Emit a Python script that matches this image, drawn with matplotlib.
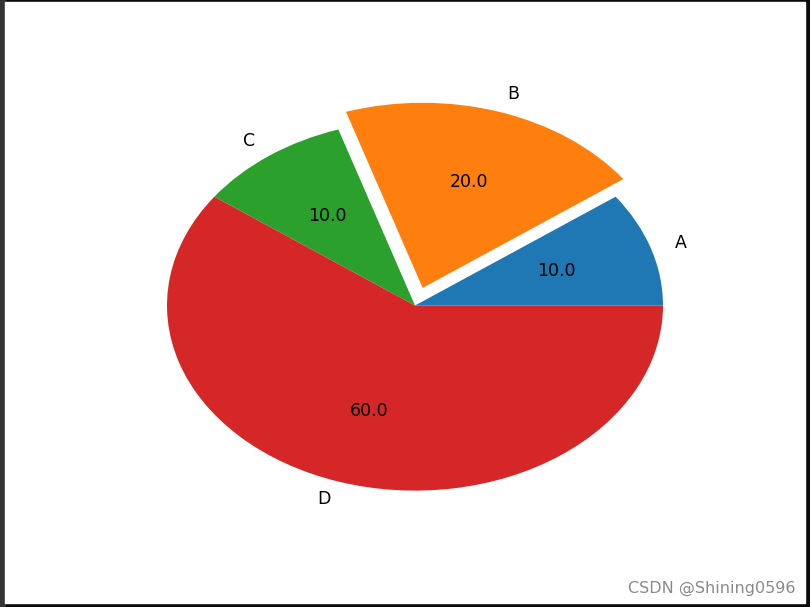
import matplotlib
matplotlib.use("Agg")

import matplotlib.pyplot as plt
from matplotlib.patches import Rectangle

# ------------------------------------------------------------
# DATA
# ------------------------------------------------------------
labels = ['A', 'B', 'C', 'D']
sizes = [10, 20, 10, 60]
explode = [0, 0.1, 0, 0]

W, H = 810, 607
fig = plt.figure(figsize=(W / 100, H / 100), dpi=100, facecolor='#0a0a0a')

# screenshot frame: grey strip on the left, white window (kept behind the axes)
fig.patches.append(Rectangle((0, 0), 5 / W, 1, transform=fig.transFigure,
                             color='#343434', zorder=-2))
fig.patches.append(Rectangle((5 / W, 4 / H), 800 / W, 601 / H,
                             transform=fig.transFigure, color='white', zorder=-1))

# axes placed as in a default 640x480 figure, scaled into the window
ax = fig.add_axes([(5 + 0.125 * 800) / W, (4 + 0.11 * 601) / H,
                   0.775 * 800 / W, 0.77 * 601 / H])

ax.pie(sizes, explode=explode, labels=labels, autopct='%.1f',
       textprops={'fontsize': 12.5})

# stretched (elliptical) pie like the original
ax.set_aspect('auto')
ax.set_xlim(-1.25, 1.25)
ax.set_ylim(-1.25, 1.25)

fig.text(795 / W, 1 - 588 / H, 'CSDN @Shining0596', ha='right', va='center',
         color='#8a8a8a', fontsize=11.5)

fig.savefig('out.png', dpi=100, facecolor=fig.get_facecolor())
